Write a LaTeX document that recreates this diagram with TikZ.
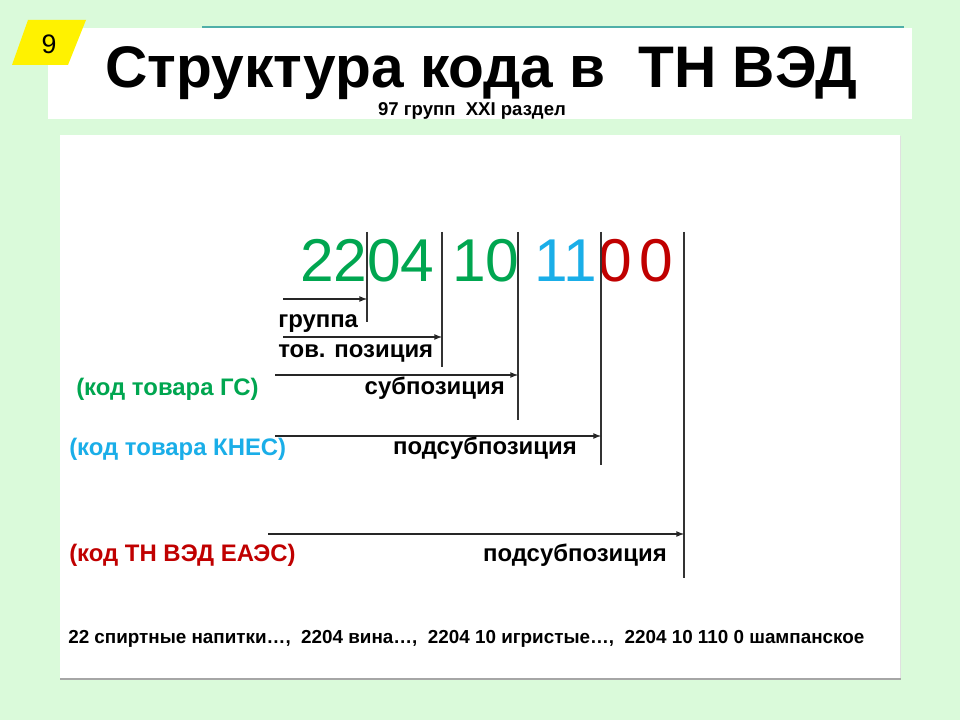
\documentclass[tikz,border=0pt]{standalone}
\usepackage{fontspec}
\setmainfont{Liberation Sans}
\usepackage{xcolor}
\usepackage{tikz}
\usetikzlibrary{arrows,positioning,calc}

\definecolor{bggreen}{HTML}{DAFADA}
\definecolor{tealline}{HTML}{4FAFA8}
\definecolor{codegreen}{HTML}{00A650}
\definecolor{codeblue}{HTML}{1AAEE8}
\definecolor{codered}{HTML}{C00000}

\tikzset{
  lbl/.style={font=\bfseries\fontsize{17}{17}\selectfont,inner sep=0pt},
  bigdigit/.style={font=\fontsize{43}{43}\selectfont,inner sep=0pt,anchor=base},
  codeline/.style={line width=0.9pt,draw=black!80},
  arr/.style={-latex,line width=0.9pt,draw=black!85}
}

\begin{document}
\begin{tikzpicture}[x=0.025cm,y=-0.025cm]
		\useasboundingbox (0,0) rectangle (960,720);
		\fill[bggreen] (0,0) rectangle (960,720);
		% title panel
		\fill[white] (48,28) rectangle (912,119);
		\draw[line width=2pt,tealline] (202,27)--(904,27);
		\fill[yellow] (12,65)--(68,65)--(86,20)--(28,20)--cycle;
		\node[font=\fontsize{19}{19}\selectfont] (num) at (49,44) {9};
		\node[font=\bfseries\fontsize{41.7}{41.7}\selectfont,inner sep=0pt,anchor=base west] (title) at (105,88) {Структура кода в\ \ ТН ВЭД};
		\node[font=\bfseries\fontsize{13.2}{13.2}\selectfont,inner sep=0pt,anchor=base] (groups) at (472,116) {97 групп\ \ XXI раздел};
		% main panel
		\fill[black!12] (60,136) rectangle (901,680);
		\fill[black!35] (60,678) rectangle (901,680);
		\fill[white] (60,135) rectangle (900,678);
		% code digits
		\node[bigdigit,codegreen] (d1) at (334,282) {22};
		\node[bigdigit,codegreen] (d2) at (401,282) {04};
		\node[bigdigit,codegreen] (d3) at (486,282) {10};
		\node[bigdigit,codeblue] (d4) at (566,282) {11};
		\node[bigdigit,codered] (d5) at (615,282) {0};
		\node[bigdigit,codered] (d6) at (656,282) {0};
		% separators
		\coordinate (s1) at (367,232); \coordinate (e1) at (367,322);
		\coordinate (s2) at (442,232); \coordinate (e2) at (442,367);
		\coordinate (s3) at (518,232); \coordinate (e3) at (518,420);
		\coordinate (s4) at (601,232); \coordinate (e4) at (601,465);
		\coordinate (s5) at (684,232); \coordinate (e5) at (684,578);
		\foreach \i in {1,...,5}
			\draw[codeline] (s\i)--(e\i);
		% arrows
		\coordinate (a1) at (283,299);
		\coordinate (a2) at (283,337);
		\coordinate (a3) at (275,375);
		\coordinate (a4) at (275,436);
		\coordinate (a5) at (268,534);
		\draw[arr] (a1)--(a1 -| s1);
		\draw[arr] (a2)--(a2 -| s2);
		\draw[arr] (a3)--(a3 -| s3);
		\draw[arr] (a4)--(a4 -| s4);
		\draw[arr] (a5)--(a5 -| s5);
		% labels
		\node[lbl,anchor=base west] (grp) at (278,328) {группа};
		\node[lbl,anchor=base west] (pos) at (278,358) {тов. позиция};
		\node[lbl,anchor=base east] (sub) at (505,395) {субпозиция};
		\node[lbl,anchor=base east] (psub) at (577,455) {подсубпозиция};
		\node[lbl,anchor=base east] (psubb) at (667,562) {подсубпозиция};
		\node[lbl,anchor=base west,codegreen] (gs) at (76,396) {(код товара ГС)};
		\node[lbl,anchor=base west,codeblue] (knes) at (69,456) {(код товара КНЕС)};
		\node[lbl,anchor=base west,codered] (eaes) at (69,562) {(код ТН ВЭД ЕАЭС)};
		% example
		\node[font=\bfseries\fontsize{13.4}{13.4}\selectfont,inner sep=0pt,anchor=base west] (ex) at (68,643) {22 спиртные напитки…,\ \ 2204 вина…,\ \ 2204 10 игристые…,\ \ 2204 10 110 0 шампанское};
	\end{tikzpicture}
\end{document}
